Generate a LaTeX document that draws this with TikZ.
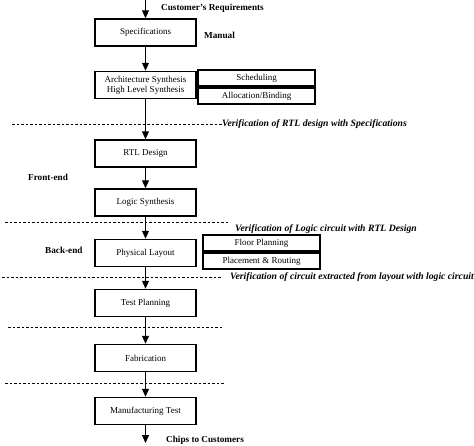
\documentclass[tikz,border=0pt]{standalone}
\usepackage{fontspec}
\setmainfont{Liberation Serif}
\usetikzlibrary{shapes.geometric, arrows, arrows.meta}

\begin{document}
\begin{tikzpicture}[x=1pt, y=-1pt]
        \tikzstyle{proc} = [rectangle, minimum width=101pt, minimum height=27pt, inner sep=0pt, text centered, draw=black, line width=1.5pt, font=\fontsize{9}{10}\selectfont]
        \tikzstyle{sub} = [rectangle, minimum width=117pt, minimum height=16pt, inner sep=0pt, text centered, draw=black, line width=1.5pt, font=\fontsize{9}{10}\selectfont]
        \tikzstyle{note} = [anchor=west, inner sep=0pt, font=\fontsize{9.2}{10}\selectfont\bfseries]
        \tikzstyle{check} = [anchor=west, inner sep=0pt, font=\fontsize{9.7}{11}\selectfont\bfseries\itshape]
        \tikzstyle{arrow} = [line width=1.2pt, -{Triangle[width=7pt, length=8pt]}]
        \tikzstyle{sep} = [line width=0.9pt, dash pattern=on 2.5pt off 2pt]
        \useasboundingbox (0,0) rectangle (474,445);
		\coordinate (in) at (145.5, 0);
		\coordinate (out) at (145.5, 443);
		\node [proc] (0) at (145.5, 32.5) {Specifications};
		\node [proc, align=center] (1) at (145.5, 85) {Architecture Synthesis\\High Level Synthesis};
		\node [sub] (2) at (256.5, 78) {Scheduling};
		\node [sub] (3) at (256.5, 96) {Allocation/Binding};
		\node [proc] (4) at (145.5, 153.5) {RTL Design};
		\node [proc] (5) at (145.5, 202.5) {Logic Synthesis};
		\node [proc] (6) at (145.5, 253) {Physical Layout};
		\node [sub] (7) at (261.5, 243) {Floor Planning};
		\node [sub] (8) at (261.5, 261) {Placement \& Routing};
		\node [proc] (9) at (145.5, 303) {Test Planning};
		\node [proc] (10) at (145.5, 358) {Fabrication};
		\node [proc] (11) at (145.5, 411) {Manufacturing Test};
		\node [note] (n0) at (161, 8) {Customer's Requirements};
		\node [note] (n1) at (204, 35) {Manual};
		\node [note] (n2) at (28, 177) {Front-end};
		\node [note] (n3) at (45, 250) {Back-end};
		\node [note] (n4) at (166, 440) {Chips to Customers};
		\node [check] (v0) at (222, 124) {Verification of RTL design with Specifications};
		\node [check] (v1) at (235, 229) {Verification of Logic circuit with RTL Design};
		\node [check] (v2) at (230, 277) {Verification of circuit extracted from layout with logic circuit};
		\coordinate (s0) at (12, 124);
		\coordinate (s1) at (5, 222);
		\coordinate (e1) at (230, 222);
		\coordinate (s2) at (2, 277);
		\coordinate (s3) at (8, 327);
		\coordinate (e3) at (222, 327);
		\coordinate (s4) at (5, 383);
		\coordinate (e4) at (225, 383);
		\draw[sep] (s0) to (v0.west);
		\draw[sep] (s1) to (e1);
		\draw[sep] (s2) to ([xshift=-8pt]v2.west);
		\draw[sep] (s3) to (e3);
		\draw[sep] (s4) to (e4);
		\draw[arrow] (in) to (0);
		\draw[arrow] (0) to (1);
		\draw[arrow] (1) to (4);
		\draw[arrow] (4) to (5);
		\draw[arrow] (5) to (6);
		\draw[arrow] (6) to (9);
		\draw[arrow] (9) to (10);
		\draw[arrow] (10) to (11);
		\draw[arrow] (11) to (out);
    \end{tikzpicture}
\end{document}
